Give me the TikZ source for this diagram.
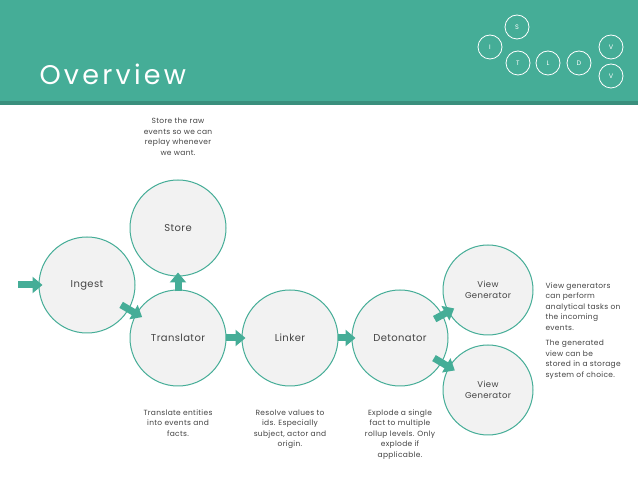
\documentclass[tikz,border=0pt]{standalone}
\usepackage{fontspec}
\setmainfont{Poppins}[LetterSpace=4]
\usetikzlibrary{arrows.meta}
\definecolor{teal1}{HTML}{45AD97}
\definecolor{teal2}{HTML}{3A8F7D}
\definecolor{txt}{HTML}{444444}
\begin{document}
\begin{tikzpicture}[x=1pt,y=-1pt,
  proc/.style={circle,draw=teal1,line width=1pt,fill=black!5,minimum size=96pt,inner sep=0pt,font=\fontsize{10}{12}\selectfont,text=txt},
  gen/.style={proc,minimum size=90pt,align=center,font=\fontsize{8.5}{10.5}\selectfont},
  logo/.style={circle,draw=white,line width=0.8pt,minimum size=24pt,inner sep=0pt,text=white,font=\fontsize{6.5}{7}\selectfont},
  flow/.style={draw=teal1,line width=7pt,-{Triangle[length=10pt,width=16pt]},shorten >=-4pt,shorten <=-1pt},
  diag/.style={flow,shorten >=-7pt,shorten <=-9pt},
  note/.style={align=center,text=txt,font=\fontsize{7.5}{10.5}\selectfont}]
\useasboundingbox (0,0) rectangle (638,478);
\fill[white] (0,0) rectangle (638,478);
\fill[teal1] (0,0) rectangle (638,101);
\fill[teal2] (0,101) rectangle (638,105);
\node[anchor=west,text=white,font=\fontsize{27}{30}\selectfont\addfontfeatures{LetterSpace=12}] (title) at (36,74) {Overview};
\node[logo] (lS) at (517,27) {S};
\node[logo] (lI) at (490,47) {I};
\node[logo] (lT) at (518,63) {T};
\node[logo] (lL) at (548,63) {L};
\node[logo] (lD) at (579,63) {D};
\node[logo] (lV1) at (611,47) {V};
\node[logo] (lV2) at (611,76) {V};

\node[proc] (ing) at (87,285) {Ingest};
\node[proc] (sto) at (178,228) {Store};
\node[proc] (tra) at (178,338) {Translator};
\node[proc] (lin) at (290,338) {Linker};
\node[proc] (det) at (400,338) {Detonator};
\node[gen] (vg1) at (488,290) {View\\Generator};
\node[gen] (vg2) at (488,390) {View\\Generator};

\coordinate (in) at (18,285);
\draw[flow,shorten <=0pt] (in) -- (ing);
\draw[diag] (ing) -- (tra);
\draw[flow,shorten <=-2pt] (tra) -- (sto);
\draw[flow] (tra) -- (lin);
\draw[flow] (lin) -- (det);
\draw[diag] (det) -- (vg1);
\draw[diag] (det) -- (vg2);

\node[note] (n1) at (178,137) {Store the raw\\events so we can\\replay whenever\\we want.};
\node[note,anchor=north] (n2) at (178,406) {Translate entities\\into events and\\facts.};
\node[note,anchor=north] (n3) at (290,406) {Resolve values to\\ids. Especially\\subject, actor and\\origin.};
\node[note,anchor=north] (n4) at (400,406) {Explode a single\\fact to multiple\\rollup levels. Only\\explode if\\applicable.};
\node[note,align=left,anchor=north west] (n5) at (542,279) {View generators\\can perform\\analytical tasks on\\the incoming\\events.\\[5pt]The generated\\view can be\\stored in a storage\\system of choice.};
\end{tikzpicture}
\end{document}
